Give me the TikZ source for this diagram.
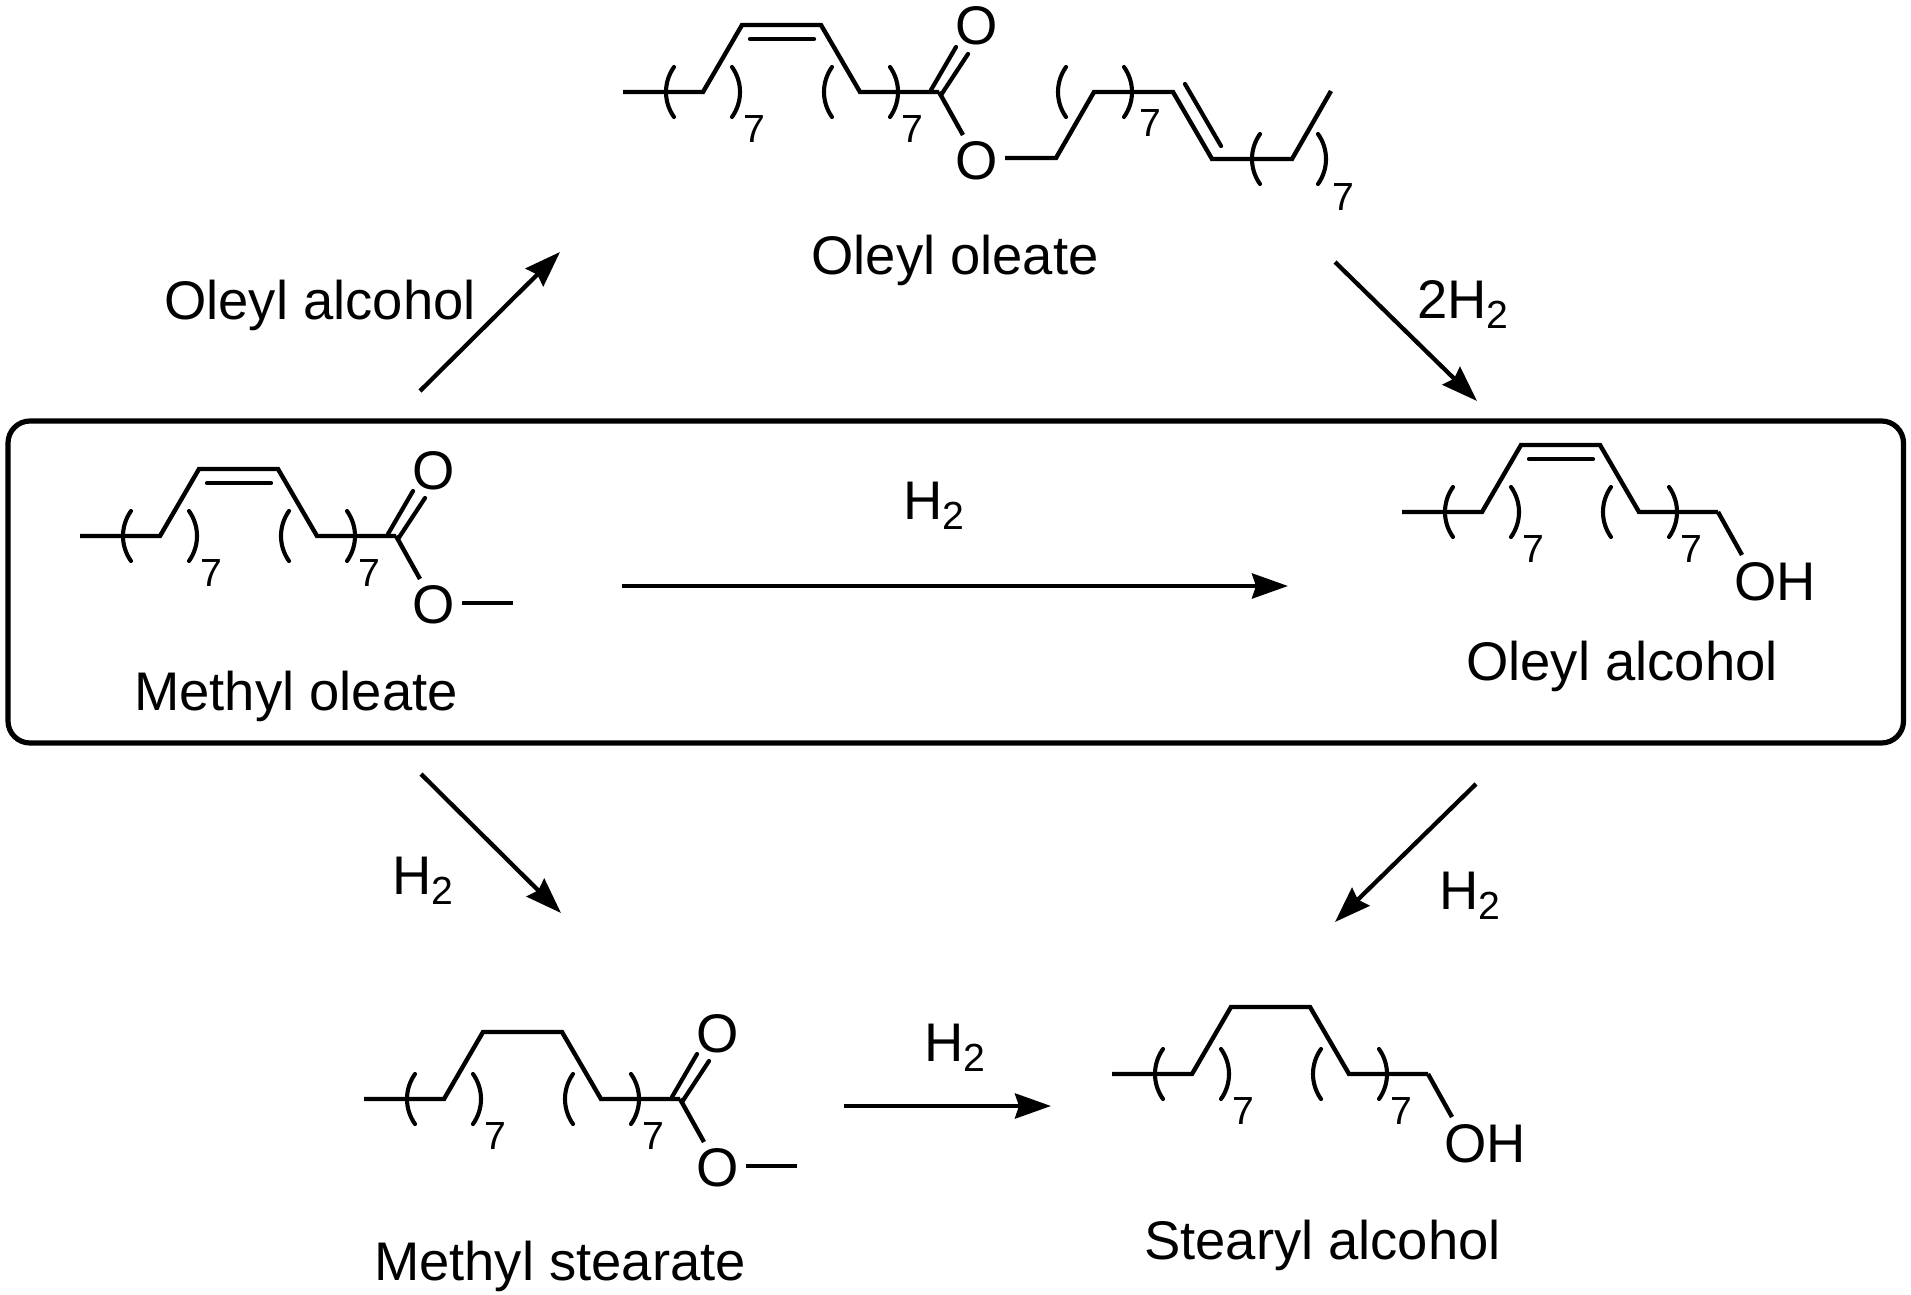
\documentclass[tikz,border=0pt]{standalone}
\usepackage{fontspec}
\setmainfont{Liberation Sans}
\usetikzlibrary{arrows.meta}
\newcommand{\bigfont}{\fontsize{27.2}{30}\selectfont}
\newcommand{\subfont}{\fontsize{19.6}{22}\selectfont}
\newcommand{\HHtwo}{H\raisebox{-5pt}{\subfont 2}}
\tikzset{
  bond/.style={line width=2.2pt,line join=miter,line cap=butt},
  dblbond/.style={line width=2.1pt,line cap=round},
  paren/.style={line width=2.05pt,line cap=round},
  frame/.style={line width=2.6pt,rounded corners=11pt},
  rxn/.style={line width=2.15pt,-{Stealth[length=18pt,width=12.5pt,inset=2pt]}},
  chemtext/.style={font=\bigfont,inner sep=0pt,anchor=base},
  seven/.style={font=\subfont,inner sep=0pt,anchor=base},
  pics/lparen/.style={code={\draw[paren] (8,-25) .. controls (-2.67,-10) and (-2.67,10) .. (8,25);}},
  pics/rparen/.style={code={\draw[paren] (-8,-25) .. controls (2.67,-10) and (2.67,10) .. (-8,25);}},
}
% fatty chain, origin = free chain end
\newcommand{\fattychain}[1]{%
  \coordinate (#1-c0) at (0,0);
  \coordinate (#1-c1) at (80,0);
  \coordinate (#1-c2) at (119,-67);
  \coordinate (#1-c3) at (198,-67);
  \coordinate (#1-c4) at (237,0);
  \coordinate (#1-c5) at (316,0);
  \draw[bond] (#1-c0) -- (#1-c1) -- (#1-c2) -- (#1-c3) -- (#1-c4) -- (#1-c5);
  \pic at (43,0) {lparen};
  \pic at (117,0) {rparen};
  \pic at (201,0) {lparen};
  \pic at (275,0) {rparen};
  \node[seven] (#1-na) at (131,50) {7};
  \node[seven] (#1-nb) at (289,50) {7};
}
% inner line of the cis double bond
\newcommand{\cisline}[1]{%
  \coordinate (#1-d1) at (127,-53);
  \coordinate (#1-d2) at (191,-53);
  \draw[dblbond] (#1-d1) -- (#1-d2);
}
% ester head, origin = free chain end
\newcommand{\esterhead}[1]{%
  \coordinate (#1-da1) at (308,-2);
  \coordinate (#1-da2) at (333,-45);
  \coordinate (#1-db1) at (318,3);
  \coordinate (#1-db2) at (345,-38);
  \draw[dblbond] (#1-da1) -- (#1-da2);
  \draw[dblbond] (#1-db1) -- (#1-db2);
  \coordinate (#1-se) at (340,43);
  \draw[bond] (#1-c5) -- (#1-se);
  \node[chemtext] (#1-o1) at (354,-47) {O};
  \node[chemtext] (#1-o2) at (354,87) {O};
}
\newcommand{\methylend}[1]{%
  \coordinate (#1-m1) at (382,67);
  \coordinate (#1-m2) at (433,67);
  \draw[bond] (#1-m1) -- (#1-m2);
}
\newcommand{\ohend}[1]{%
  \coordinate (#1-oe) at (340,43);
  \draw[bond] (#1-c5) -- (#1-oe);
  \node[chemtext] (#1-oh) at (373,88) {OH};
}
\begin{document}
\begin{tikzpicture}[x=0.5pt,y=-0.5pt]
\useasboundingbox (0,0) rectangle (1911,1295);
\draw[frame] (8,421) rectangle (1903.5,743);

% Oleyl oleate
\begin{scope}[shift={(623,92)}]
  \fattychain{oo}
  \cisline{oo}
  \esterhead{oo}
\end{scope}
\coordinate (oo-e1) at (1005,158);
\coordinate (oo-e2) at (1056,158);
\coordinate (oo-e3) at (1094,92);
\coordinate (oo-e4) at (1173,92);
\coordinate (oo-e5) at (1212,159);
\coordinate (oo-e6) at (1292,159);
\coordinate (oo-e7) at (1331,91);
\draw[bond] (oo-e1) -- (oo-e2) -- (oo-e3) -- (oo-e4) -- (oo-e5) -- (oo-e6) -- (oo-e7);
\coordinate (oo-t1) at (1185,84);
\coordinate (oo-t2) at (1221,146);
\draw[dblbond] (oo-t1) -- (oo-t2);
\pic at (1058,92) {lparen};
\pic at (1132,92) {rparen};
\pic at (1252,159) {lparen};
\pic at (1326,159) {rparen};
\node[seven] (oo-nc) at (1150,137) {7};
\node[seven] (oo-nd) at (1343,210) {7};
\node[chemtext] (oo-label) at (955,274) {Oleyl oleate};

% Methyl oleate
\begin{scope}[shift={(80,536)}]
  \fattychain{mo}
  \cisline{mo}
  \esterhead{mo}
  \methylend{mo}
\end{scope}
\node[chemtext] (mo-label) at (296,710) {Methyl oleate};

% Oleyl alcohol (product in the frame)
\begin{scope}[shift={(1402,512)}]
  \fattychain{oa}
  \cisline{oa}
  \ohend{oa}
\end{scope}
\node[chemtext] (oa-label) at (1622,680) {Oleyl alcohol};

% Methyl stearate
\begin{scope}[shift={(364,1099)}]
  \fattychain{ms}
  \esterhead{ms}
  \methylend{ms}
\end{scope}
\node[chemtext] (ms-label) at (560,1280) {Methyl stearate};

% Stearyl alcohol
\begin{scope}[shift={(1112,1074)}]
  \fattychain{sa}
  \ohend{sa}
\end{scope}
\node[chemtext] (sa-label) at (1322.5,1259) {Stearyl alcohol};

% Reaction arrows
\coordinate (a1s) at (420,391);   \coordinate (a1e) at (560,252);
\coordinate (a2s) at (1335,262);  \coordinate (a2e) at (1477,401);
\coordinate (a3s) at (622,586);   \coordinate (a3e) at (1288,586);
\coordinate (a4s) at (421,774);   \coordinate (a4e) at (561,913);
\coordinate (a5s) at (1476,784);  \coordinate (a5e) at (1335,922);
\coordinate (a6s) at (844,1106);  \coordinate (a6e) at (1051,1106);
\draw[rxn] (a1s) -- (a1e);
\draw[rxn] (a2s) -- (a2e);
\draw[rxn] (a3s) -- (a3e);
\draw[rxn] (a4s) -- (a4e);
\draw[rxn] (a5s) -- (a5e);
\draw[rxn] (a6s) -- (a6e);

% Arrow labels
\node[chemtext] (l1) at (320,319) {Oleyl alcohol};
\node[chemtext] (l2) at (1463,318) {2\HHtwo};
\node[chemtext] (l3) at (934,519) {\HHtwo};
\node[chemtext] (l4) at (423,894) {\HHtwo};
\node[chemtext] (l5) at (1470,909) {\HHtwo};
\node[chemtext] (l6) at (955,1061) {\HHtwo};
\end{tikzpicture}
\end{document}
